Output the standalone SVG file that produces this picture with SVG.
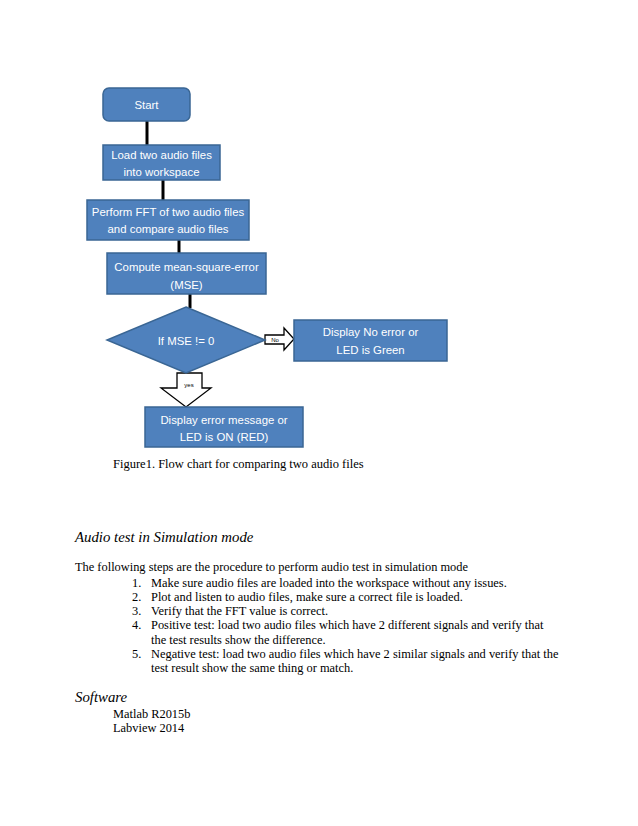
<svg xmlns="http://www.w3.org/2000/svg" width="638" height="826" viewBox="0 0 638 826">
<style>
.box{fill:#4f81bd;stroke:#3a6694;stroke-width:1.5}
.bt{fill:#ffffff;font-family:"Liberation Sans",Arial,sans-serif;font-size:11.4px;text-anchor:middle}
.ln{stroke:#000;stroke-width:3;fill:none}
.blk{fill:#fff;stroke:#000;stroke-width:1.3}
.sm{fill:#000;font-family:"Liberation Sans",Arial,sans-serif;font-size:6px;text-anchor:middle}
.tx{fill:#000;font-family:"Liberation Serif","Times New Roman",serif;font-size:12.4px}
.hd{fill:#000;font-family:"Liberation Serif","Times New Roman",serif;font-size:14.8px;font-style:italic}
</style>
<rect width="638" height="826" fill="#fff"/>
<g id="connectors">
<line class="ln" x1="147" y1="121" x2="147" y2="145"/>
<line class="ln" x1="163" y1="180" x2="163" y2="200"/>
<line class="ln" x1="179" y1="240" x2="179" y2="253"/>
<line class="ln" x1="190" y1="294" x2="190" y2="308"/>
<g id="arrow-no">
<polygon class="blk" points="265,335 284,335 284,328 294,339 284,350 284,344 265,344"/>
<text class="sm" x="275" y="341.5">No</text>
</g>
<g id="arrow-yes">
<polygon class="blk" points="177,373 202,373 202,388 211,388 186,407 161,388 177,388"/>
<text class="sm" x="189" y="387">yes</text>
</g>
</g>
<g id="start">
<rect class="box" x="103" y="88" width="87" height="33" rx="6"/>
<text class="bt" x="146.5" y="109">Start</text>
</g>
<g id="load">
<rect class="box" x="103" y="145" width="117" height="35"/>
<text class="bt" x="161.5" y="158.5">Load two audio files</text>
<text class="bt" x="161.5" y="175.5">into workspace</text>
</g>
<g id="fft">
<rect class="box" x="87" y="200" width="162" height="40"/>
<text class="bt" x="168" y="216">Perform FFT of two audio files</text>
<text class="bt" x="168" y="233">and compare audio files</text>
</g>
<g id="mse">
<rect class="box" x="107" y="253" width="159" height="41"/>
<text class="bt" x="186.5" y="271">Compute mean-square-error</text>
<text class="bt" x="186.5" y="289">(MSE)</text>
</g>
<g id="decision">
<polygon class="box" points="186,307 265,340 186,373 107,340"/>
<text class="bt" x="186" y="344.5">If MSE != 0</text>
</g>
<g id="noerror">
<rect class="box" x="294" y="320" width="153" height="41"/>
<text class="bt" x="370.5" y="335.5">Display No error or</text>
<text class="bt" x="370.5" y="353.5">LED is Green</text>
</g>
<g id="error">
<rect class="box" x="145" y="407" width="158" height="40"/>
<text class="bt" x="224" y="424">Display error message or</text>
<text class="bt" x="224" y="441">LED is ON (RED)</text>
</g>
<text class="tx" x="113" y="468" style="font-size:12.5px">Figure1.  Flow chart for comparing  two audio files</text>
<text class="hd" x="75" y="542">Audio test in Simulation mode</text>
<text class="tx" x="75" y="571">The following  steps are the procedure to perform audio test in simulation  mode</text>
<text class="tx" x="132" y="587">1.</text>
<text class="tx" x="151" y="587">Make sure audio files are loaded into the workspace without any issues.</text>
<text class="tx" x="132" y="601">2.</text>
<text class="tx" x="151" y="601">Plot and listen to audio files, make sure a correct file is loaded.</text>
<text class="tx" x="132" y="615">3.</text>
<text class="tx" x="151" y="615">Verify that the FFT value is correct.</text>
<text class="tx" x="132" y="629">4.</text>
<text class="tx" x="151" y="629">Positive test: load two audio files which have 2 different signals and verify that</text>
<text class="tx" x="151" y="644">the test results show the difference.</text>
<text class="tx" x="132" y="658">5.</text>
<text class="tx" x="151" y="658">Negative test: load two audio files which have 2 similar signals and verify that the</text>
<text class="tx" x="151" y="672">test result show the same thing or match.</text>
<text class="hd" x="75" y="702">Software</text>
<text class="tx" x="113" y="718">Matlab R2015b</text>
<text class="tx" x="113" y="732">Labview 2014</text>
</svg>
